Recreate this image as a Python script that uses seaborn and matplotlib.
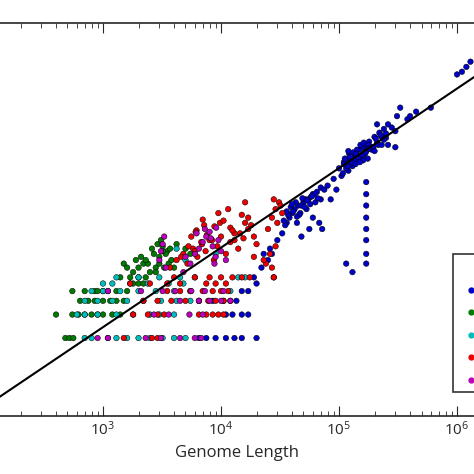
import numpy as np
import pandas as pd
import matplotlib
matplotlib.use("Agg")
import matplotlib.pyplot as plt
import seaborn as sns

groups = ["dsDNA", "ssDNA", "ssRNA(-)", "ssRNA(+)", "dsRNA"]
colors = ["#0000c8", "#007a00", "#00bdbd", "#ee0000", "#bb00bb"]

# (genome length, gene count) per group
blue_x = [6500, 7500, 9000, 11000, 13000, 15000, 20000, 11000, 12500, 15000, 17000, 8500, 10500, 13500, 15000, 17000, 19000, 28000,
          23000, 26000, 30000, 36000, 40000, 45000, 50000, 55000, 60000, 65000, 70000, 38000, 42000, 48000, 52000, 58000, 62000,
          44000, 47000, 53000, 35000, 33000, 70000, 75000, 80000, 90000, 100000, 110000, 120000, 130000, 140000, 150000, 160000,
          170000, 180000, 200000, 220000, 240000, 260000, 120000, 130000, 145000, 155000, 165000, 185000, 210000, 230000,
          105000, 115000, 125000, 135000, 170000, 175000, 190000, 250000, 280000, 300000, 310000, 330000, 400000, 450000, 600000,
          1100000, 1200000, 1300000, 1000000, 170000, 170000, 170000, 170000, 170000, 170000, 170000, 170000, 115000, 130000,
          60000, 68000, 72000, 95000, 85000, 48000, 56000, 260000, 300000, 380000, 210000, 240000, 25000, 22000, 20000, 27000,
          37000, 39000, 41000, 43000, 46000, 49000, 51000, 54000, 57000, 59000, 63000, 66000, 34000, 36000, 40000, 44000,
          108000, 112000, 118000, 122000, 128000, 132000, 138000, 142000, 148000, 152000, 158000, 162000, 168000, 178000,
          195000, 205000, 215000, 225000, 110000, 125000, 140000, 160000, 180000, 200000, 230000, 250000, 120000, 150000]
blue_y = [1, 1, 1, 1, 1, 1, 1, 2, 2, 2, 2, 3, 3, 3, 4, 4, 6, 6,
          12, 14, 18, 30, 40, 50, 55, 60, 70, 75, 85, 35, 45, 50, 60, 65, 70,
          30, 40, 45, 28, 22, 60, 80, 90, 110, 150, 180, 200, 220, 240, 260, 280,
          300, 330, 380, 430, 480, 550, 140, 160, 190, 210, 230, 280, 320, 380,
          120, 150, 170, 190, 250, 200, 260, 370, 500, 450, 700, 900, 700, 800, 900,
          2600, 3000, 3500, 2400, 100, 70, 50, 35, 25, 18, 12, 9, 9, 7,
          35, 30, 25, 80, 60, 20, 25, 300, 280, 640, 550, 350, 10, 8, 5, 12,
          38, 48, 42, 55, 38, 62, 48, 58, 52, 66, 55, 62, 32, 42, 52, 36,
          130, 200, 160, 230, 180, 240, 170, 260, 200, 300, 220, 320, 240, 300,
          280, 360, 300, 400, 170, 210, 230, 190, 270, 250, 300, 420, 250, 180]
green_x = [480, 520, 560, 400, 550, 620, 700, 800, 900, 1000, 1200, 1400, 640, 750, 850, 1000, 1150, 1300, 1500, 550, 700, 850,
           900, 1000, 1100, 1300, 1600, 1800, 2000, 2200, 1400, 1700, 2000, 2300, 1800, 2000, 2200, 2500, 2800, 3000, 3300,
           3600, 4000, 1900, 2100, 2400, 2700, 3000, 3200, 3500, 3800, 2600, 2900, 3100, 3400, 3700, 1500, 1600, 2300, 2800,
           3200, 4200, 5000, 5500]
green_y = [1, 1, 1, 2, 2, 2, 2, 2, 2, 2, 2, 2, 3, 3, 3, 3, 3, 3, 3, 4, 4, 4,
           4, 4, 4, 4, 4, 5, 5, 5, 6, 6, 6, 6, 7, 8, 9, 7, 8, 9, 8,
           9, 8, 10, 11, 9, 12, 11, 15, 13, 10, 14, 16, 18, 12, 14, 9, 8, 10, 7,
           13, 16, 14, 12]
cyan_x = [700, 800, 1100, 1300, 1600, 2000, 2500, 3200, 4000, 5000, 600, 700, 900, 1300, 1800, 2500, 3000, 4000, 700, 900,
          1200, 1600, 2200, 3100, 4200, 5500, 6500, 800, 1000, 1400, 2000, 2800, 4000, 5500, 12000, 1000, 1200, 1700, 2400,
          3600, 4800, 1300, 2000, 3000, 4500, 6000, 14000, 16000, 9000, 5000, 4200]
cyan_y = [1, 1, 1, 1, 1, 1, 1, 1, 1, 1, 2, 2, 2, 2, 2, 2, 2, 2, 3, 3,
          3, 3, 3, 3, 3, 3, 3, 4, 4, 4, 4, 4, 4, 4, 4, 5, 5, 5, 5,
          5, 5, 6, 6, 6, 6, 6, 6, 6, 12, 10, 14]
red_x = [1500, 2600, 2900, 1800, 2400, 2900, 3300, 6500, 7500, 8500, 9500, 10500, 2200, 2900, 3800, 5000, 6500, 7800, 9000,
         10500, 12000, 3500, 4500, 5500, 7000, 8500, 10000, 11500, 1700, 2500, 3500, 4500, 7500, 9000, 11000, 4000, 6000,
         8000, 10000, 12500, 15000, 17500, 28000, 3700, 4200, 4800, 5200, 5800, 6300, 6900, 7400, 8000, 8700, 9300, 10000,
         11000, 12000, 13000, 14000, 15500, 17000, 19000, 20000, 5600, 6200, 7200, 8400, 9800, 12000, 14500, 17000,
         6000, 6800, 7600, 8800, 10500, 12500, 15000, 18000, 4600, 5300, 6100, 7000, 9500, 11500, 16000, 19000,
         25000, 27000, 29000, 31000, 33000, 28000, 30000, 32000, 26000, 29000, 24000, 27000, 23000, 13000, 16000]
red_y = [1, 1, 1, 2, 2, 2, 2, 2, 2, 2, 2, 2, 3, 3, 3, 3, 3, 3, 3,
         3, 3, 4, 4, 4, 4, 4, 4, 4, 5, 5, 5, 5, 5, 5, 5, 6, 6,
         6, 6, 6, 6, 6, 6, 8, 10, 12, 9, 14, 11, 16, 13, 18, 10, 15, 20, 12,
         17, 22, 14, 19, 25, 11, 16, 20, 24, 28, 18, 30, 26, 22, 35,
         13, 17, 21, 27, 32, 24, 38, 28, 11, 15, 23, 33, 40, 45, 30, 20,
         25, 35, 45, 55, 40, 60, 30, 50, 12, 15, 9, 8, 10, 18, 55]
mag_x = [900, 1100, 2300, 3100, 4500, 6000, 6800, 2700, 3600, 5400, 7000, 4500, 6500, 8000, 10000, 12000, 1100, 2100,
         3200, 4100, 5600, 7300, 10500, 3000, 3100, 3200, 3300, 3400, 5500, 6000, 6500, 7000, 7500, 8000, 8500, 9000,
         9500, 10000, 11000, 6200, 7300, 8200, 9100, 4800, 5000, 8800]
mag_y = [1, 1, 1, 1, 1, 1, 1, 2, 2, 2, 2, 3, 3, 3, 3, 3, 4, 4,
         4, 4, 4, 4, 4, 10, 13, 16, 20, 8, 9, 12, 14, 17, 20, 23, 15, 11, 18,
         13, 10, 22, 25, 19, 26, 7, 11, 9]

fit_coef = 0.0012
fit_exp = 1.02

frames = []
for g, xs, ys in zip(groups, [blue_x, green_x, cyan_x, red_x, mag_x], [blue_y, green_y, cyan_y, red_y, mag_y]):
    frames.append(pd.DataFrame({"length": xs, "genes": ys, "group": g}))
df = pd.concat(frames, ignore_index=True)

sns.set_style("ticks")
plt.rcParams["font.family"] = ["Open Sans", "DejaVu Sans"]
fig = plt.figure(figsize=(4.74, 4.74), dpi=100)
ax = fig.add_axes([-30 / 474, 58 / 474, 534 / 474, 393 / 474])
ax.set_xscale("log")
ax.set_yscale("log")

xl = (10 ** 1.873, 10 ** 6.398)
xs_line = np.logspace(np.log10(xl[0]), np.log10(xl[1]), 100)
ax.plot(xs_line, fit_coef * xs_line ** fit_exp, color="black", lw=1.5, zorder=3)

sns.scatterplot(data=df, x="length", y="genes", hue="group", hue_order=groups,
                palette=dict(zip(groups, colors)), s=16, edgecolor="black", linewidth=0.35,
                ax=ax, zorder=2, legend=False)

ax.set_xlim(*xl)
ax.set_ylim(0.1, 10 ** 4.04)
ax.set_xticks([1e3, 1e4, 1e5, 1e6])
ax.set_yticklabels([])
ax.tick_params(which="both", direction="in", top=True, right=True)
ax.tick_params(which="major", length=7, labelsize=11)
ax.tick_params(which="minor", length=3.5)
ax.set_xlabel("Genome Length", fontsize=12)
ax.set_ylabel("")
for sp in ax.spines.values():
    sp.set_linewidth(1.2)

handles = [plt.Line2D([], [], marker="o", ls="", color=c, markersize=3.5) for c in colors]
leg = ax.legend(handles, groups, title=" ", loc="upper left",
                bbox_to_anchor=(453 / 474, 1 - 254 / 474), bbox_transform=fig.transFigure,
                frameon=True, fancybox=False, edgecolor="black", fontsize=9, borderaxespad=0,
                handletextpad=2.5, labelspacing=0.75, title_fontsize=12)
leg.get_frame().set_linewidth(1.2)

fig.savefig("out.png", dpi=100)
